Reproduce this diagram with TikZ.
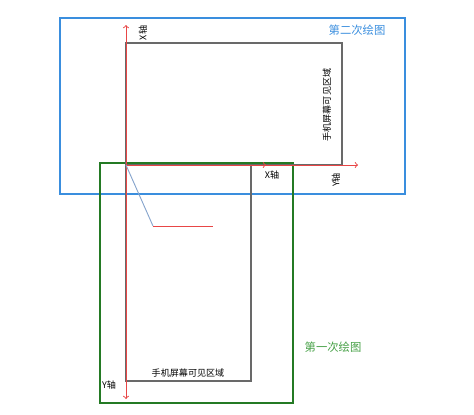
\documentclass[tikz,border=0pt]{standalone}
\usepackage{fontspec}
\newfontfamily\cjk{Noto Sans CJK SC}
\usetikzlibrary{arrows}
\definecolor{frameblue}{RGB}{58,142,222}
\definecolor{framegreen}{RGB}{36,122,36}
\definecolor{textgreen}{RGB}{70,160,70}
\definecolor{axisred}{RGB}{232,70,70}
\definecolor{screengray}{RGB}{105,105,105}
\definecolor{pointerblue}{RGB}{135,165,205}
\tikzset{
    axis/.style={draw=axisred, line width=0.7pt, ->, >=to},
    screen/.style={draw=screengray, line width=0.9pt},
    small label/.style={font=\cjk\fontsize{6.8}{8}\selectfont, inner sep=0pt},
    title label/.style={font=\cjk\fontsize{8.5}{10}\selectfont, inner sep=0pt}
}

\begin{document}
\begin{tikzpicture}[x=0.75pt, y=-0.75pt]
    \useasboundingbox (0, 0) rectangle (474, 414);
    % shared origin of both drawings.
    \draw (126, 165) coordinate (origin) node {};
    % second drawing frame (blue).
    \draw (60, 18) coordinate (blue nw) node {};
    \draw (405, 194) coordinate (blue se) node {};
    \draw[frameblue, line width=2.2pt] (blue nw) rectangle (blue se);
    \node[title label, text=frameblue] (second title) at (357, 30) {第二次绘图};
    % first drawing frame (green).
    \draw (100, 163) coordinate (green nw) node {};
    \draw (293, 403) coordinate (green se) node {};
    \draw[framegreen, line width=1.8pt] (green nw) rectangle (green se);
    \node[title label, text=textgreen] (first title) at (333, 347) {第一次绘图};
    % visible screen, first drawing.
    \draw (251, 381) coordinate (screen one se) node {};
    \draw[screen] (origin) rectangle (screen one se);
    \node[small label] (screen one label) at (188, 373) {手机屏幕可见区域};
    % visible screen, second drawing (turned).
    \draw (342, 43) coordinate (screen two ne) node {};
    \draw[screen] (origin) rectangle (screen two ne);
    \node[small label, rotate=90] (screen two label) at (327, 105) {手机屏幕可见区域};
    % axes of the first drawing.
    \draw (266, 165) coordinate (x one tip) node {};
    \draw (126, 399) coordinate (y one tip) node {};
    \draw[axis] (origin) -- (x one tip);
    \draw[axis] (origin) -- (y one tip);
    \node[small label] (x one label) at (272, 175) {X轴};
    \node[small label] (y one label) at (109, 385) {Y轴};
    % axes of the second drawing.
    \draw (126, 25) coordinate (x two tip) node {};
    \draw (358, 165) coordinate (y two tip) node {};
    \draw[axis] (origin) -- (x two tip);
    \draw[axis] (origin) -- (y two tip);
    \node[small label, rotate=90] (x two label) at (143, 33) {X轴};
    \node[small label, rotate=90] (y two label) at (336, 180) {Y轴};
    % pointer line.
    \draw (153, 226) coordinate (pointer bend) node {};
    \draw (213, 226) coordinate (pointer end) node {};
    \draw[pointerblue, line width=0.7pt] (origin) -- (pointer bend);
    \draw[axisred, line width=0.7pt] (pointer bend) -- (pointer end);
\end{tikzpicture}
\end{document}
